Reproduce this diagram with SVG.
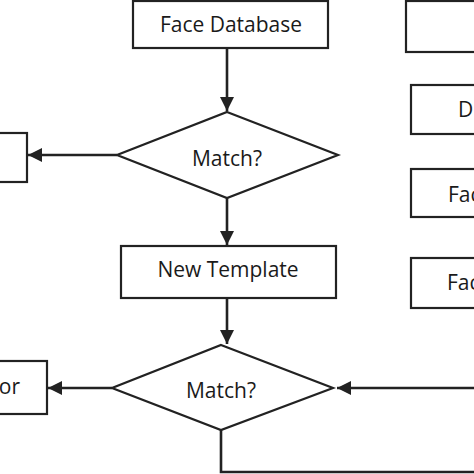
<svg xmlns="http://www.w3.org/2000/svg" width="474" height="474" viewBox="0 0 474 474">
<defs>
<style>
.box{fill:#fff;stroke:#222;stroke-width:2.2}
.t{font-family:"Open Sans","Liberation Sans",sans-serif;font-size:21px;fill:#1a1a1a}
.c{text-anchor:middle}
.ln{fill:none;stroke:#222;stroke-width:2.6}
</style>
<marker id="ah" viewBox="0 0 10 10" refX="10" refY="5" markerWidth="14" markerHeight="14" markerUnits="userSpaceOnUse" orient="auto">
<path d="M0,0 L10,5 L0,10 z" fill="#222"/>
</marker>
</defs>
<rect width="474" height="474" fill="#fff"/>
<g id="connectors">
<line class="ln" x1="227" y1="48" x2="227" y2="111" marker-end="url(#ah)"/>
<line class="ln" x1="117" y1="155" x2="28" y2="155" marker-end="url(#ah)"/>
<line class="ln" x1="227" y1="198" x2="227" y2="245" marker-end="url(#ah)"/>
<line class="ln" x1="227" y1="298" x2="227" y2="344" marker-end="url(#ah)"/>
<line class="ln" x1="112" y1="388" x2="48" y2="388" marker-end="url(#ah)"/>
<line class="ln" x1="476" y1="388" x2="337" y2="388" marker-end="url(#ah)"/>
<polyline class="ln" points="221,430 221,472 476,472"/>
</g>
<g id="face-database">
<rect class="box" x="133" y="1" width="195" height="47"/>
<text class="t c" x="231" y="32">Face Database</text>
</g>
<g id="match1">
<polygon class="box" points="227,112 338,155 227,198 117,155"/>
<text class="t c" x="227" y="166">Match?</text>
</g>
<g id="left-box1">
<rect class="box" x="-5" y="133" width="32" height="49"/>
</g>
<g id="new-template">
<rect class="box" x="121" y="246" width="215" height="52"/>
<text class="t c" x="228" y="277">New Template</text>
</g>
<g id="match2">
<polygon class="box" points="221,345 333,388 221,430 112,388"/>
<text class="t c" x="221" y="398">Match?</text>
</g>
<g id="left-box2">
<rect class="box" x="-5" y="361" width="52" height="53"/>
<text class="t" x="20" y="394" text-anchor="end">or</text>
</g>
<g id="right-box1">
<rect class="box" x="406" y="1" width="80" height="51"/>
</g>
<g id="right-box2">
<rect class="box" x="411" y="85" width="80" height="49"/>
<text class="t" x="458" y="117">D</text>
</g>
<g id="right-box3">
<rect class="box" x="411" y="169" width="80" height="48"/>
<text class="t" x="448" y="202">Fac</text>
</g>
<g id="right-box4">
<rect class="box" x="411" y="258" width="80" height="50"/>
<text class="t" x="447" y="290">Fac</text>
</g>
</svg>
